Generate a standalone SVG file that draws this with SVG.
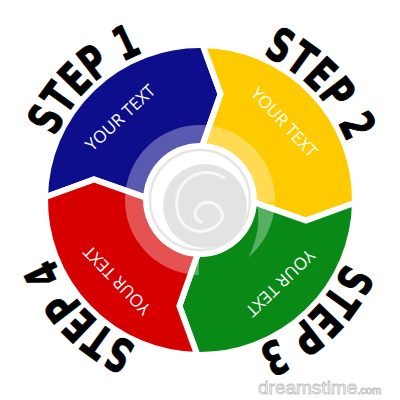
<svg xmlns="http://www.w3.org/2000/svg" xmlns:xlink="http://www.w3.org/1999/xlink" width="400" height="400" viewBox="0 0 400 400">
<style>
.seg{stroke:#fff;stroke-width:6;stroke-linejoin:miter}
.lbl{font-family:"Open Sans","Liberation Sans",sans-serif;font-size:17px;fill:#fff;text-anchor:middle;dominant-baseline:central}
.step{font-family:"DejaVu Sans","Liberation Sans",sans-serif;font-weight:bold;font-size:46px;fill:#000;stroke:#000;stroke-width:1;text-anchor:middle}
</style>
<defs>
<path id="ring" d="M 200 42 A 158 158 0 1 1 200 358 A 158 158 0 1 1 200 42"/>
</defs>
<rect width="400" height="400" fill="#fff"/>
<g id="step1">
<path class="seg" fill="#0c0e8b" d="M 45.02 197.29 A 155 155 0 0 1 202.71 45.02 L 220.61 93.98 L 200.87 150.01 A 50 50 0 0 0 150.01 199.13 L 93.98 179.39 Z"/>
<text class="lbl" transform="translate(120.1 117.3) rotate(-43)">YOUR TEXT</text>
<text class="step" textLength="125" lengthAdjust="spacingAndGlyphs"><textPath xlink:href="#ring" href="#ring" startOffset="871.7">STEP 1</textPath></text>
</g>
<g id="step2">
<path class="seg" fill="#fecb00" d="M 202.71 45.02 A 155 155 0 0 1 354.98 202.71 L 306.02 220.61 L 249.99 200.87 A 50 50 0 0 0 200.87 150.01 L 220.61 93.98 Z"/>
<text class="lbl" transform="translate(284.6 122) rotate(47)">YOUR TEXT</text>
<text class="step" textLength="125" lengthAdjust="spacingAndGlyphs"><textPath xlink:href="#ring" href="#ring" startOffset="126.9">STEP 2</textPath></text>
</g>
<g id="step3">
<path class="seg" fill="#098a17" d="M 354.98 202.71 A 155 155 0 0 1 197.29 354.98 L 179.39 306.02 L 199.13 249.99 A 50 50 0 0 0 249.99 200.87 L 306.02 220.61 Z"/>
<text class="lbl" transform="translate(280.6 283.4) rotate(136)">YOUR TEXT</text>
<text class="step" textLength="125" lengthAdjust="spacingAndGlyphs"><textPath xlink:href="#ring" href="#ring" startOffset="375.0">STEP 3</textPath></text>
</g>
<g id="step4">
<path class="seg" fill="#d70000" d="M 197.29 354.98 A 155 155 0 0 1 45.02 197.29 L 93.98 179.39 L 150.01 199.13 A 50 50 0 0 0 199.13 249.99 L 179.39 306.02 Z"/>
<text class="lbl" transform="translate(116.6 280.6) rotate(226)">YOUR TEXT</text>
<text class="step" textLength="125" lengthAdjust="spacingAndGlyphs"><textPath xlink:href="#ring" href="#ring" startOffset="623.2">STEP 4</textPath></text>
</g>
<g id="center">
<path fill="#fff" fill-opacity="0.32" d="M 198.69 274.99 A 75 75 0 1 1 274.95 202.62 L 256.97 201.99 A 57 57 0 1 0 199.0 256.99 Z"/>
<path fill="#fff" fill-opacity="0.32" d="M 274.90 203.93 A 75 75 0 0 1 248.21 257.45 Q 262.21 230.82 256.92 202.98 Z"/>
<circle cx="200" cy="200" r="57" fill="#fff"/>
<circle cx="200" cy="200" r="50" fill="none" stroke="#e6e6e6" stroke-width="2.5"/>
<circle cx="205" cy="206" r="42" fill="#e3e3e3"/>
<path d="M 224 178 A 30 30 0 0 0 177 207 A 24 24 0 0 0 222 219 A 14 14 0 0 0 197 208 A 9 9 0 0 0 201 222" fill="none" stroke="#f7f7f7" stroke-width="3" stroke-linecap="round"/>
</g>
<g id="watermark">
<text x="258" y="394" font-family="Liberation Sans,sans-serif" font-size="19" fill="#fff" stroke="#c4c4c4" stroke-width="0.9">dreamstime<tspan font-size="11">.com</tspan></text>
</g>
</svg>
